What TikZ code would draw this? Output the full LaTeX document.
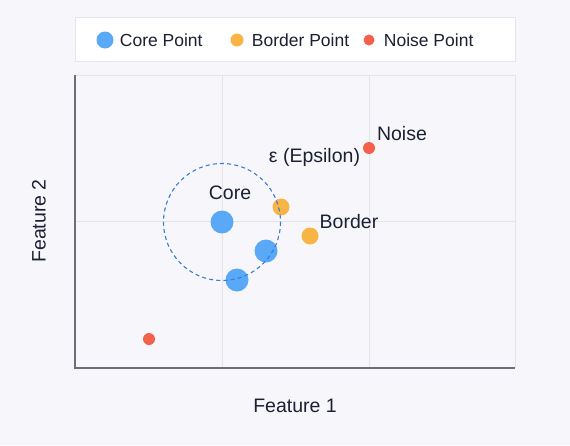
\documentclass[tikz,border=0pt]{standalone}
\usepackage{fontspec}
\setmainfont{Liberation Sans}
\usetikzlibrary{positioning}

\definecolor{pagebg}{HTML}{F7F7FB}
\definecolor{gridgray}{HTML}{E3E4EC}
\definecolor{axisgray}{HTML}{6E6E78}
\definecolor{corecol}{HTML}{59A9F6}
\definecolor{bordercol}{HTML}{F8B545}
\definecolor{noisecol}{HTML}{F4604B}
\definecolor{epscol}{HTML}{3A7BD5}
\definecolor{ink}{HTML}{1B2033}

\begin{document}
\begin{tikzpicture}[x=1pt,y=-1pt,
    core/.style={circle,fill=corecol,inner sep=0pt,minimum size=23pt},
    border/.style={circle,fill=bordercol,inner sep=0pt,minimum size=17pt},
    noise/.style={circle,fill=noisecol,inner sep=0pt,minimum size=12pt},
    lbl/.style={text=ink,inner sep=0pt,font=\fontsize{19.5}{22}\selectfont},
    legtext/.style={text=ink,inner sep=0pt,font=\fontsize{17.5}{20}\selectfont}]

  % page and legend box
  \fill[pagebg] (0,0) rectangle (570,445);
  \useasboundingbox (0,0) rectangle (570,445);
  \draw[gridgray,fill=white] (75,17) rectangle (515,61);

  \node[core,minimum size=17pt] (legcore) at (105,40) {};
  \node[legtext,right=6pt of legcore] {Core Point};
  \node[border,minimum size=13pt] (legborder) at (237,40) {};
  \node[legtext,right=8pt of legborder] {Border Point};
  \node[noise,minimum size=11pt] (legnoise) at (369,40) {};
  \node[legtext,right=9pt of legnoise] {Noise Point};

  % grid and axes
  \draw[gridgray] (222,75) -- (222,368);
  \draw[gridgray] (369,75) -- (369,368);
  \draw[gridgray] (75,221) -- (515,221);
  \draw[gridgray] (75,75) -- (515,75) -- (515,368);
  \draw[axisgray,line width=1.2pt] (75,75) -- (75,368) -- (515,368);

  \node[lbl] (xlab) at (295,406) {Feature 1};
  \node[lbl,rotate=90] (ylab) at (39,221) {Feature 2};

  % points
  \node[core] (coreA) at (222,222) {};
  \node[core] (coreB) at (266,251) {};
  \node[core] (coreC) at (237,280) {};
  \node[border] (borderA) at (281,207) {};
  \node[border] (borderB) at (310,236) {};
  \node[noise] (noiseA) at (369,148) {};
  \node[noise] (noiseB) at (149,339) {};

  % epsilon neighbourhood
  \draw[epscol,line width=1.1pt,dash pattern=on 4pt off 3.2pt] (coreA) circle (58.5);

  \node[lbl] at (230,193) {Core};
  \node[lbl] at (314.5,157) {ε (Epsilon)};
  \node[lbl] at (402,134) {Noise};
  \node[lbl] at (349,222) {Border};

\end{tikzpicture}
\end{document}
